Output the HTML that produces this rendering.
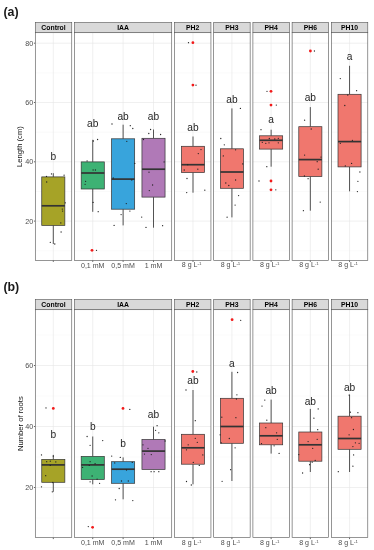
<!DOCTYPE html>
<html><head><meta charset="utf-8"><title>Figure</title>
<style>
html,body{margin:0;padding:0;background:#fff}
svg{display:block}
text{font-family:"Liberation Sans",Arial,Helvetica,sans-serif}
.tag{font-weight:bold;font-size:12.4px;fill:#1a1a1a}
.ttl{font-size:7.65px;fill:#111}
.ax{font-size:7.2px;fill:#4d4d4d}
.xl{font-size:7.05px}
.sup{font-size:4.4px}
.stt{font-size:6.85px;font-weight:bold;fill:#000}
.lab{font-size:10.2px;fill:#262626}
.tick{stroke:#333;stroke-width:.75;fill:none}
.minor{stroke:#f3f3f3;stroke-width:.4;fill:none}
.major{stroke:#e6e6e6;stroke-width:.6;fill:none}
.wh{stroke:#4a4a4a;stroke-width:.95;fill:none}
.bx{stroke:#333;stroke-width:.7}
.md{stroke:#333;stroke-width:1.7;fill:none}
.pt circle{fill:#222}
.rd circle{fill:#f21a1a}
.pb{fill:none;stroke:#555;stroke-width:.62}
.st{fill:#d9d9d9;stroke:#555;stroke-width:.62}
</style></head>
<body>
<svg width="374" height="550" viewBox="0 0 374 550">
<rect width="374" height="550" fill="#fff"/>
<text x="3.4" y="15.6" class="tag">(a)</text>
<text class="ttl" transform="translate(22.3 146.55) rotate(-90)" text-anchor="middle">Length (cm)</text>
<text class="ax" x="33.3" y="223.6" text-anchor="end">20</text>
<path class="tick" d="M33.9 221.1H35.1"/>
<text class="ax" x="33.3" y="164.3" text-anchor="end">40</text>
<path class="tick" d="M33.9 161.8H35.1"/>
<text class="ax" x="33.3" y="105" text-anchor="end">60</text>
<path class="tick" d="M33.9 102.5H35.1"/>
<text class="ax" x="33.3" y="45.7" text-anchor="end">80</text>
<path class="tick" d="M33.9 43.2H35.1"/>
<rect x="35.3" y="32.7" width="36.46" height="227.7" fill="#fff"/>
<path class="tick" d="M53.3 260.4v1.5"/>
<path class="minor" d="M35.3 250.75H71.76M35.3 191.45H71.76M35.3 132.15H71.76M35.3 72.85H71.76"/>
<path class="major" d="M35.3 221.1H71.76M35.3 161.8H71.76M35.3 102.5H71.76M35.3 43.2H71.76M53.3 32.7V260.4"/>
<rect x="74.51" y="32.7" width="97.22" height="227.7" fill="#fff"/>
<path class="tick" d="M92.74 260.4v1.5"/>
<path class="tick" d="M123.12 260.4v1.5"/>
<path class="tick" d="M153.5 260.4v1.5"/>
<path class="minor" d="M74.51 250.75H171.73M74.51 191.45H171.73M74.51 132.15H171.73M74.51 72.85H171.73"/>
<path class="major" d="M74.51 221.1H171.73M74.51 161.8H171.73M74.51 102.5H171.73M74.51 43.2H171.73M92.74 32.7V260.4M123.12 32.7V260.4M153.5 32.7V260.4"/>
<rect x="174.48" y="32.7" width="36.46" height="227.7" fill="#fff"/>
<path class="tick" d="M193 260.4v1.5"/>
<path class="minor" d="M174.48 250.75H210.94M174.48 191.45H210.94M174.48 132.15H210.94M174.48 72.85H210.94"/>
<path class="major" d="M174.48 221.1H210.94M174.48 161.8H210.94M174.48 102.5H210.94M174.48 43.2H210.94M193 32.7V260.4"/>
<rect x="213.69" y="32.7" width="36.46" height="227.7" fill="#fff"/>
<path class="tick" d="M231.92 260.4v1.5"/>
<path class="minor" d="M213.69 250.75H250.15M213.69 191.45H250.15M213.69 132.15H250.15M213.69 72.85H250.15"/>
<path class="major" d="M213.69 221.1H250.15M213.69 161.8H250.15M213.69 102.5H250.15M213.69 43.2H250.15M231.92 32.7V260.4"/>
<rect x="252.9" y="32.7" width="36.46" height="227.7" fill="#fff"/>
<path class="tick" d="M271.13 260.4v1.5"/>
<path class="minor" d="M252.9 250.75H289.36M252.9 191.45H289.36M252.9 132.15H289.36M252.9 72.85H289.36"/>
<path class="major" d="M252.9 221.1H289.36M252.9 161.8H289.36M252.9 102.5H289.36M252.9 43.2H289.36M271.13 32.7V260.4"/>
<rect x="292.11" y="32.7" width="36.46" height="227.7" fill="#fff"/>
<path class="tick" d="M310.34 260.4v1.5"/>
<path class="minor" d="M292.11 250.75H328.57M292.11 191.45H328.57M292.11 132.15H328.57M292.11 72.85H328.57"/>
<path class="major" d="M292.11 221.1H328.57M292.11 161.8H328.57M292.11 102.5H328.57M292.11 43.2H328.57M310.34 32.7V260.4"/>
<rect x="331.32" y="32.7" width="36.46" height="227.7" fill="#fff"/>
<path class="tick" d="M349.55 260.4v1.5"/>
<path class="minor" d="M331.32 250.75H367.78M331.32 191.45H367.78M331.32 132.15H367.78M331.32 72.85H367.78"/>
<path class="major" d="M331.32 221.1H367.78M331.32 161.8H367.78M331.32 102.5H367.78M331.32 43.2H367.78M349.55 32.7V260.4"/>
<path class="wh" d="M53.3 173.2V176.9M53.3 225.4V244"/>
<rect class="bx" x="41.75" y="176.9" width="23.1" height="48.5" fill="#a6a327"/>
<path class="md" d="M41.75 205.8H64.85"/>
<text class="lab" x="53.3" y="160.1" text-anchor="middle">b</text>
<path class="wh" d="M92.74 139.8V161.9M92.74 189V211.8"/>
<rect class="bx" x="81.19" y="161.9" width="23.1" height="27.1" fill="#3db274"/>
<path class="md" d="M81.19 173H104.29"/>
<text class="lab" x="92.74" y="127.2" text-anchor="middle">ab</text>
<path class="wh" d="M123.12 124.7V138.8M123.12 209.2V225.4"/>
<rect class="bx" x="111.57" y="138.8" width="23.1" height="70.4" fill="#38a4dc"/>
<path class="md" d="M111.57 179.1H134.67"/>
<text class="lab" x="123.12" y="119.7" text-anchor="middle">ab</text>
<path class="wh" d="M153.5 129.5V138.3M153.5 197.1V227.7"/>
<rect class="bx" x="141.95" y="138.3" width="23.1" height="58.8" fill="#b079b7"/>
<path class="md" d="M141.95 169.2H165.05"/>
<text class="lab" x="153.5" y="119.7" text-anchor="middle">ab</text>
<path class="wh" d="M193 136.5V146.3M193 172.5V192.7"/>
<rect class="bx" x="181.45" y="146.3" width="23.1" height="26.2" fill="#f0776e"/>
<path class="md" d="M181.45 164.7H204.55"/>
<text class="lab" x="193" y="131.3" text-anchor="middle">ab</text>
<path class="wh" d="M231.92 108.4V148.8M231.92 188.3V217.4"/>
<rect class="bx" x="220.37" y="148.8" width="23.1" height="39.5" fill="#f0776e"/>
<path class="md" d="M220.37 172H243.47"/>
<text class="lab" x="231.92" y="103.1" text-anchor="middle">ab</text>
<path class="wh" d="M271.13 129.7V135.8M271.13 149.1V166.7"/>
<rect class="bx" x="259.58" y="135.8" width="23.1" height="13.3" fill="#f0776e"/>
<path class="md" d="M259.58 140.3H282.68"/>
<text class="lab" x="271.13" y="123.2" text-anchor="middle">a</text>
<path class="wh" d="M310.34 107.1V126.7M310.34 176.5V210.7"/>
<rect class="bx" x="298.79" y="126.7" width="23.1" height="49.8" fill="#f0776e"/>
<path class="md" d="M298.79 159.6H321.89"/>
<text class="lab" x="310.34" y="100.9" text-anchor="middle">ab</text>
<path class="wh" d="M349.55 65.8V94.3M349.55 166.9V191.3"/>
<rect class="bx" x="338" y="94.3" width="23.1" height="72.6" fill="#f0776e"/>
<path class="md" d="M338 141.6H361.1"/>
<text class="lab" x="349.55" y="59.8" text-anchor="middle">a</text>
<g class="pt"><circle cx="46.5" cy="176.4" r=".65"/><circle cx="51.5" cy="173.9" r=".65"/><circle cx="64.1" cy="175.2" r=".65"/><circle cx="46.7" cy="182" r=".65"/><circle cx="65.3" cy="202.8" r=".65"/><circle cx="62.3" cy="209.1" r=".65"/><circle cx="62.6" cy="211.1" r=".65"/><circle cx="60.8" cy="222.9" r=".65"/><circle cx="61.1" cy="232" r=".65"/><circle cx="50.3" cy="242.3" r=".65"/><circle cx="54.8" cy="244" r=".65"/><circle cx="93.4" cy="141" r=".65"/><circle cx="97.6" cy="139.5" r=".65"/><circle cx="87.1" cy="160.9" r=".65"/><circle cx="93.1" cy="170" r=".65"/><circle cx="95.4" cy="170" r=".65"/><circle cx="85.6" cy="181.3" r=".65"/><circle cx="85.1" cy="184.3" r=".65"/><circle cx="93.1" cy="202.4" r=".65"/><circle cx="98.2" cy="211.7" r=".65"/><circle cx="96.5" cy="250.3" r=".65"/><circle cx="112" cy="124" r=".65"/><circle cx="130.3" cy="125.7" r=".65"/><circle cx="132.8" cy="128.5" r=".65"/><circle cx="126.8" cy="141.3" r=".65"/><circle cx="134.8" cy="163.4" r=".65"/><circle cx="113.2" cy="178" r=".65"/><circle cx="131.8" cy="180" r=".65"/><circle cx="126.3" cy="203.6" r=".65"/><circle cx="129.9" cy="211.1" r=".65"/><circle cx="121.1" cy="214.6" r=".65"/><circle cx="114.1" cy="225.4" r=".65"/><circle cx="150.6" cy="129.5" r=".65"/><circle cx="148.8" cy="133.5" r=".65"/><circle cx="160.6" cy="134.5" r=".65"/><circle cx="143.5" cy="139.5" r=".65"/><circle cx="164.1" cy="161.9" r=".65"/><circle cx="149" cy="172.2" r=".65"/><circle cx="152.6" cy="185" r=".65"/><circle cx="149.3" cy="190.6" r=".65"/><circle cx="141.7" cy="217.1" r=".65"/><circle cx="146" cy="227.4" r=".65"/><circle cx="162.6" cy="225.7" r=".65"/><circle cx="188.5" cy="42.7" r=".65"/><circle cx="196" cy="85.2" r=".65"/><circle cx="201" cy="149.6" r=".65"/><circle cx="198.3" cy="153.6" r=".65"/><circle cx="187.7" cy="164.7" r=".65"/><circle cx="184.2" cy="170" r=".65"/><circle cx="197.8" cy="169.2" r=".65"/><circle cx="187" cy="178.5" r=".65"/><circle cx="204.8" cy="190.2" r=".65"/><circle cx="186.7" cy="192.6" r=".65"/><circle cx="240.4" cy="108.4" r=".65"/><circle cx="220.8" cy="138.5" r=".65"/><circle cx="224.3" cy="144.8" r=".65"/><circle cx="235.6" cy="149.8" r=".65"/><circle cx="223.3" cy="155.9" r=".65"/><circle cx="242.7" cy="163.9" r=".65"/><circle cx="225.8" cy="183" r=".65"/><circle cx="235.6" cy="180" r=".65"/><circle cx="228.8" cy="185.5" r=".65"/><circle cx="238.6" cy="195.6" r=".65"/><circle cx="235.1" cy="205.1" r=".65"/><circle cx="227.1" cy="217.2" r=".65"/><circle cx="267" cy="91.3" r=".65"/><circle cx="276.3" cy="105.1" r=".65"/><circle cx="259" cy="181" r=".65"/><circle cx="275.8" cy="189.8" r=".65"/><circle cx="261" cy="129.7" r=".65"/><circle cx="269.3" cy="138.5" r=".65"/><circle cx="274.8" cy="139" r=".65"/><circle cx="278.3" cy="138.3" r=".65"/><circle cx="265.8" cy="143.3" r=".65"/><circle cx="269" cy="142.8" r=".65"/><circle cx="278.3" cy="142.8" r=".65"/><circle cx="262.3" cy="142.3" r=".65"/><circle cx="266.8" cy="166.7" r=".65"/><circle cx="314.4" cy="51" r=".65"/><circle cx="304.6" cy="120.2" r=".65"/><circle cx="311.2" cy="129" r=".65"/><circle cx="304.6" cy="155.1" r=".65"/><circle cx="321" cy="157.1" r=".65"/><circle cx="317.2" cy="161.7" r=".65"/><circle cx="318.2" cy="169.2" r=".65"/><circle cx="304.4" cy="176" r=".65"/><circle cx="308.1" cy="178.7" r=".65"/><circle cx="320.2" cy="202.1" r=".65"/><circle cx="303.4" cy="210.7" r=".65"/><circle cx="340.3" cy="78.6" r=".65"/><circle cx="356.6" cy="90.7" r=".65"/><circle cx="347.8" cy="95" r=".65"/><circle cx="344.8" cy="105.5" r=".65"/><circle cx="352.4" cy="140.3" r=".65"/><circle cx="340.3" cy="143.3" r=".65"/><circle cx="351.6" cy="163.4" r=".65"/><circle cx="345.3" cy="165.9" r=".65"/><circle cx="359.9" cy="172" r=".65"/><circle cx="357.9" cy="181.3" r=".65"/><circle cx="357.4" cy="191.6" r=".65"/></g>
<g class="rd"><circle cx="92" cy="250.3" r="1.4"/><circle cx="192.9" cy="42.7" r="1.4"/><circle cx="192.9" cy="85.1" r="1.4"/><circle cx="271" cy="91.3" r="1.4"/><circle cx="271" cy="105.1" r="1.4"/><circle cx="271" cy="181" r="1.4"/><circle cx="271" cy="189.8" r="1.4"/><circle cx="310.4" cy="51" r="1.4"/></g>
<rect class="pb" x="35.3" y="32.7" width="36.46" height="227.7"/>
<rect class="st" x="35.3" y="22.6" width="36.46" height="10.1"/>
<text class="stt" x="53.53" y="30" text-anchor="middle">Control</text>
<rect class="pb" x="74.51" y="32.7" width="97.22" height="227.7"/>
<rect class="st" x="74.51" y="22.6" width="97.22" height="10.1"/>
<text class="stt" x="123.12" y="30" text-anchor="middle">IAA</text>
<rect class="pb" x="174.48" y="32.7" width="36.46" height="227.7"/>
<rect class="st" x="174.48" y="22.6" width="36.46" height="10.1"/>
<text class="stt" x="192.71" y="30" text-anchor="middle">PH2</text>
<rect class="pb" x="213.69" y="32.7" width="36.46" height="227.7"/>
<rect class="st" x="213.69" y="22.6" width="36.46" height="10.1"/>
<text class="stt" x="231.92" y="30" text-anchor="middle">PH3</text>
<rect class="pb" x="252.9" y="32.7" width="36.46" height="227.7"/>
<rect class="st" x="252.9" y="22.6" width="36.46" height="10.1"/>
<text class="stt" x="271.13" y="30" text-anchor="middle">PH4</text>
<rect class="pb" x="292.11" y="32.7" width="36.46" height="227.7"/>
<rect class="st" x="292.11" y="22.6" width="36.46" height="10.1"/>
<text class="stt" x="310.34" y="30" text-anchor="middle">PH6</text>
<rect class="pb" x="331.32" y="32.7" width="36.46" height="227.7"/>
<rect class="st" x="331.32" y="22.6" width="36.46" height="10.1"/>
<text class="stt" x="349.55" y="30" text-anchor="middle">PH10</text>
<text class="ax xl" x="92.74" y="267.7" text-anchor="middle">0,1 mM</text>
<text class="ax xl" x="123.12" y="267.7" text-anchor="middle">0,5 mM</text>
<text class="ax xl" x="153.5" y="267.7" text-anchor="middle">1 mM</text>
<text class="ax xl" x="181.8" y="267.1">8 g L<tspan class="sup" dy="-1.8">-1</tspan></text>
<text class="ax xl" x="220.72" y="267.1">8 g L<tspan class="sup" dy="-1.8">-1</tspan></text>
<text class="ax xl" x="259.93" y="267.1">8 g L<tspan class="sup" dy="-1.8">-1</tspan></text>
<text class="ax xl" x="299.14" y="267.1">8 g L<tspan class="sup" dy="-1.8">-1</tspan></text>
<text class="ax xl" x="338.35" y="267.1">8 g L<tspan class="sup" dy="-1.8">-1</tspan></text>
<text x="3.4" y="290.6" class="tag">(b)</text>
<text class="ttl" transform="translate(22.9 423.65) rotate(-90)" text-anchor="middle">Number of roots</text>
<text class="ax" x="33.3" y="490" text-anchor="end">20</text>
<path class="tick" d="M33.9 487.5H35.1"/>
<text class="ax" x="33.3" y="429" text-anchor="end">40</text>
<path class="tick" d="M33.9 426.5H35.1"/>
<text class="ax" x="33.3" y="368" text-anchor="end">60</text>
<path class="tick" d="M33.9 365.5H35.1"/>
<rect x="35.3" y="309.7" width="36.46" height="227.9" fill="#fff"/>
<path class="tick" d="M53.3 537.6v1.5"/>
<path class="minor" d="M35.3 518H71.76M35.3 457H71.76M35.3 396H71.76M35.3 335H71.76"/>
<path class="major" d="M35.3 487.5H71.76M35.3 426.5H71.76M35.3 365.5H71.76M53.3 309.7V537.6"/>
<rect x="74.51" y="309.7" width="97.22" height="227.9" fill="#fff"/>
<path class="tick" d="M92.74 537.6v1.5"/>
<path class="tick" d="M123.12 537.6v1.5"/>
<path class="tick" d="M153.5 537.6v1.5"/>
<path class="minor" d="M74.51 518H171.73M74.51 457H171.73M74.51 396H171.73M74.51 335H171.73"/>
<path class="major" d="M74.51 487.5H171.73M74.51 426.5H171.73M74.51 365.5H171.73M92.74 309.7V537.6M123.12 309.7V537.6M153.5 309.7V537.6"/>
<rect x="174.48" y="309.7" width="36.46" height="227.9" fill="#fff"/>
<path class="tick" d="M193 537.6v1.5"/>
<path class="minor" d="M174.48 518H210.94M174.48 457H210.94M174.48 396H210.94M174.48 335H210.94"/>
<path class="major" d="M174.48 487.5H210.94M174.48 426.5H210.94M174.48 365.5H210.94M193 309.7V537.6"/>
<rect x="213.69" y="309.7" width="36.46" height="227.9" fill="#fff"/>
<path class="tick" d="M231.92 537.6v1.5"/>
<path class="minor" d="M213.69 518H250.15M213.69 457H250.15M213.69 396H250.15M213.69 335H250.15"/>
<path class="major" d="M213.69 487.5H250.15M213.69 426.5H250.15M213.69 365.5H250.15M231.92 309.7V537.6"/>
<rect x="252.9" y="309.7" width="36.46" height="227.9" fill="#fff"/>
<path class="tick" d="M271.13 537.6v1.5"/>
<path class="minor" d="M252.9 518H289.36M252.9 457H289.36M252.9 396H289.36M252.9 335H289.36"/>
<path class="major" d="M252.9 487.5H289.36M252.9 426.5H289.36M252.9 365.5H289.36M271.13 309.7V537.6"/>
<rect x="292.11" y="309.7" width="36.46" height="227.9" fill="#fff"/>
<path class="tick" d="M310.34 537.6v1.5"/>
<path class="minor" d="M292.11 518H328.57M292.11 457H328.57M292.11 396H328.57M292.11 335H328.57"/>
<path class="major" d="M292.11 487.5H328.57M292.11 426.5H328.57M292.11 365.5H328.57M310.34 309.7V537.6"/>
<rect x="331.32" y="309.7" width="36.46" height="227.9" fill="#fff"/>
<path class="tick" d="M349.55 537.6v1.5"/>
<path class="minor" d="M331.32 518H367.78M331.32 457H367.78M331.32 396H367.78M331.32 335H367.78"/>
<path class="major" d="M331.32 487.5H367.78M331.32 426.5H367.78M331.32 365.5H367.78M349.55 309.7V537.6"/>
<path class="wh" d="M53.3 454.9V459.4M53.3 482.3V491.8"/>
<rect class="bx" x="41.75" y="459.4" width="23.1" height="22.9" fill="#a6a327"/>
<path class="md" d="M41.75 464.9H64.85"/>
<text class="lab" x="53.3" y="438.3" text-anchor="middle">b</text>
<path class="wh" d="M92.74 436.5V456.4M92.74 479.5V484.3"/>
<rect class="bx" x="81.19" y="456.4" width="23.1" height="23.1" fill="#3db274"/>
<path class="md" d="M81.19 464.9H104.29"/>
<text class="lab" x="92.74" y="430.3" text-anchor="middle">b</text>
<path class="wh" d="M123.12 457.4V461.7M123.12 483.3V499.3"/>
<rect class="bx" x="111.57" y="461.7" width="23.1" height="21.6" fill="#38a4dc"/>
<path class="md" d="M111.57 469.2H134.67"/>
<text class="lab" x="123.12" y="447.3" text-anchor="middle">b</text>
<path class="wh" d="M153.5 426.7V439.5M153.5 469.4V469.4"/>
<rect class="bx" x="141.95" y="439.5" width="23.1" height="29.9" fill="#b079b7"/>
<path class="md" d="M141.95 451.1H165.05"/>
<text class="lab" x="153.5" y="417.7" text-anchor="middle">ab</text>
<path class="wh" d="M193 390V434.3M193 464.2V484.3"/>
<rect class="bx" x="181.45" y="434.3" width="23.1" height="29.9" fill="#f0776e"/>
<path class="md" d="M181.45 447.8H204.55"/>
<text class="lab" x="193" y="383.6" text-anchor="middle">ab</text>
<path class="wh" d="M231.92 371.8V398.3M231.92 443.3V481"/>
<rect class="bx" x="220.37" y="398.3" width="23.1" height="45" fill="#f0776e"/>
<path class="md" d="M220.37 426.5H243.47"/>
<text class="lab" x="231.92" y="366.7" text-anchor="middle">a</text>
<path class="wh" d="M271.13 399.6V423M271.13 444.8V453.6"/>
<rect class="bx" x="259.58" y="423" width="23.1" height="21.8" fill="#f0776e"/>
<path class="md" d="M259.58 435.8H282.68"/>
<text class="lab" x="271.13" y="393.8" text-anchor="middle">ab</text>
<path class="wh" d="M310.34 408.9V432M310.34 461.2V472"/>
<rect class="bx" x="298.79" y="432" width="23.1" height="29.2" fill="#f0776e"/>
<path class="md" d="M298.79 444.8H321.89"/>
<text class="lab" x="310.34" y="405.1" text-anchor="middle">ab</text>
<path class="wh" d="M349.55 394.6V416.2M349.55 449.3V472"/>
<rect class="bx" x="338" y="416.2" width="23.1" height="33.1" fill="#f0776e"/>
<path class="md" d="M338 438.5H361.1"/>
<text class="lab" x="349.55" y="390.6" text-anchor="middle">ab</text>
<g class="pt"><circle cx="46" cy="407.9" r=".65"/><circle cx="41.5" cy="454.9" r=".65"/><circle cx="53.3" cy="456.1" r=".65"/><circle cx="46.7" cy="461.7" r=".65"/><circle cx="50.3" cy="461.2" r=".65"/><circle cx="55.8" cy="461.9" r=".65"/><circle cx="50.3" cy="465.4" r=".65"/><circle cx="45.7" cy="475.7" r=".65"/><circle cx="52.8" cy="482.5" r=".65"/><circle cx="41.5" cy="486.8" r=".65"/><circle cx="52.3" cy="491.8" r=".65"/><circle cx="88.3" cy="526.6" r=".65"/><circle cx="87.1" cy="436.5" r=".65"/><circle cx="102.7" cy="440.6" r=".65"/><circle cx="90.1" cy="445.3" r=".65"/><circle cx="90.1" cy="461.7" r=".65"/><circle cx="95.1" cy="463.7" r=".65"/><circle cx="82.6" cy="467.4" r=".65"/><circle cx="89.3" cy="465.4" r=".65"/><circle cx="92.1" cy="476" r=".65"/><circle cx="97.1" cy="479.2" r=".65"/><circle cx="90.1" cy="481.8" r=".65"/><circle cx="99.6" cy="483.3" r=".65"/><circle cx="129.8" cy="409.4" r=".65"/><circle cx="111.7" cy="456.1" r=".65"/><circle cx="120.3" cy="457.4" r=".65"/><circle cx="114.7" cy="462.9" r=".65"/><circle cx="132.3" cy="462.4" r=".65"/><circle cx="126.5" cy="470" r=".65"/><circle cx="121.5" cy="481" r=".65"/><circle cx="128.3" cy="481" r=".65"/><circle cx="119.2" cy="488.5" r=".65"/><circle cx="115.5" cy="499.8" r=".65"/><circle cx="132.8" cy="500.6" r=".65"/><circle cx="157.1" cy="425.7" r=".65"/><circle cx="155.6" cy="430.3" r=".65"/><circle cx="158.8" cy="432.8" r=".65"/><circle cx="165.1" cy="441" r=".65"/><circle cx="143" cy="444.8" r=".65"/><circle cx="148" cy="448.3" r=".65"/><circle cx="144.5" cy="454.1" r=".65"/><circle cx="151.3" cy="454.6" r=".65"/><circle cx="151.1" cy="471.7" r=".65"/><circle cx="154.1" cy="471.7" r=".65"/><circle cx="158.8" cy="471.7" r=".65"/><circle cx="196.8" cy="372" r=".65"/><circle cx="186" cy="390" r=".65"/><circle cx="195.3" cy="420.7" r=".65"/><circle cx="195.3" cy="438.3" r=".65"/><circle cx="197.3" cy="442.3" r=".65"/><circle cx="188.2" cy="444.8" r=".65"/><circle cx="186.5" cy="449.8" r=".65"/><circle cx="202.8" cy="454.9" r=".65"/><circle cx="193.3" cy="462.4" r=".65"/><circle cx="199.3" cy="465.4" r=".65"/><circle cx="186.5" cy="481.5" r=".65"/><circle cx="191.3" cy="485" r=".65"/><circle cx="240.7" cy="320.3" r=".65"/><circle cx="237.6" cy="372.5" r=".65"/><circle cx="236.9" cy="394.8" r=".65"/><circle cx="236.4" cy="399" r=".65"/><circle cx="221.8" cy="417.2" r=".65"/><circle cx="235.9" cy="417.7" r=".65"/><circle cx="220.1" cy="434.8" r=".65"/><circle cx="229.3" cy="438.5" r=".65"/><circle cx="221.3" cy="442.8" r=".65"/><circle cx="235.1" cy="447.8" r=".65"/><circle cx="230.6" cy="469.7" r=".65"/><circle cx="222.1" cy="481.3" r=".65"/><circle cx="264.8" cy="400.1" r=".65"/><circle cx="262" cy="406.1" r=".65"/><circle cx="266.8" cy="420.2" r=".65"/><circle cx="265.8" cy="427.7" r=".65"/><circle cx="276.6" cy="432.8" r=".65"/><circle cx="277.3" cy="439.3" r=".65"/><circle cx="261.5" cy="443.6" r=".65"/><circle cx="274.1" cy="445.8" r=".65"/><circle cx="279.1" cy="453.4" r=".65"/><circle cx="318.2" cy="408.9" r=".65"/><circle cx="313.9" cy="418.2" r=".65"/><circle cx="317.7" cy="429.7" r=".65"/><circle cx="317.2" cy="439.3" r=".65"/><circle cx="308.1" cy="441.6" r=".65"/><circle cx="312.7" cy="448.3" r=".65"/><circle cx="298.8" cy="454.6" r=".65"/><circle cx="315.2" cy="460.4" r=".65"/><circle cx="312.2" cy="462.2" r=".65"/><circle cx="309.6" cy="464.7" r=".65"/><circle cx="302.6" cy="473" r=".65"/><circle cx="349.1" cy="395.1" r=".65"/><circle cx="350.4" cy="412.2" r=".65"/><circle cx="357.9" cy="412.7" r=".65"/><circle cx="351.6" cy="417.7" r=".65"/><circle cx="353.4" cy="429.5" r=".65"/><circle cx="349.1" cy="434.8" r=".65"/><circle cx="355.4" cy="442.8" r=".65"/><circle cx="359.1" cy="443.3" r=".65"/><circle cx="352.9" cy="446.6" r=".65"/><circle cx="353.6" cy="454.9" r=".65"/><circle cx="352.9" cy="466.2" r=".65"/><circle cx="338.3" cy="471.7" r=".65"/></g>
<g class="rd"><circle cx="53.3" cy="408.4" r="1.4"/><circle cx="92.6" cy="527.3" r="1.4"/><circle cx="123" cy="408.4" r="1.4"/><circle cx="192.8" cy="371.5" r="1.4"/><circle cx="232.1" cy="319.7" r="1.4"/></g>
<rect class="pb" x="35.3" y="309.7" width="36.46" height="227.9"/>
<rect class="st" x="35.3" y="299.6" width="36.46" height="10.1"/>
<text class="stt" x="53.53" y="307" text-anchor="middle">Control</text>
<rect class="pb" x="74.51" y="309.7" width="97.22" height="227.9"/>
<rect class="st" x="74.51" y="299.6" width="97.22" height="10.1"/>
<text class="stt" x="123.12" y="307" text-anchor="middle">IAA</text>
<rect class="pb" x="174.48" y="309.7" width="36.46" height="227.9"/>
<rect class="st" x="174.48" y="299.6" width="36.46" height="10.1"/>
<text class="stt" x="192.71" y="307" text-anchor="middle">PH2</text>
<rect class="pb" x="213.69" y="309.7" width="36.46" height="227.9"/>
<rect class="st" x="213.69" y="299.6" width="36.46" height="10.1"/>
<text class="stt" x="231.92" y="307" text-anchor="middle">PH3</text>
<rect class="pb" x="252.9" y="309.7" width="36.46" height="227.9"/>
<rect class="st" x="252.9" y="299.6" width="36.46" height="10.1"/>
<text class="stt" x="271.13" y="307" text-anchor="middle">PH4</text>
<rect class="pb" x="292.11" y="309.7" width="36.46" height="227.9"/>
<rect class="st" x="292.11" y="299.6" width="36.46" height="10.1"/>
<text class="stt" x="310.34" y="307" text-anchor="middle">PH6</text>
<rect class="pb" x="331.32" y="309.7" width="36.46" height="227.9"/>
<rect class="st" x="331.32" y="299.6" width="36.46" height="10.1"/>
<text class="stt" x="349.55" y="307" text-anchor="middle">PH10</text>
<text class="ax xl" x="92.74" y="545.4" text-anchor="middle">0,1 mM</text>
<text class="ax xl" x="123.12" y="545.4" text-anchor="middle">0,5 mM</text>
<text class="ax xl" x="153.5" y="545.4" text-anchor="middle">1 mM</text>
<text class="ax xl" x="181.8" y="544.8">8 g L<tspan class="sup" dy="-1.8">-1</tspan></text>
<text class="ax xl" x="220.72" y="544.8">8 g L<tspan class="sup" dy="-1.8">-1</tspan></text>
<text class="ax xl" x="259.93" y="544.8">8 g L<tspan class="sup" dy="-1.8">-1</tspan></text>
<text class="ax xl" x="299.14" y="544.8">8 g L<tspan class="sup" dy="-1.8">-1</tspan></text>
<text class="ax xl" x="338.35" y="544.8">8 g L<tspan class="sup" dy="-1.8">-1</tspan></text>
</svg>
</body></html>
